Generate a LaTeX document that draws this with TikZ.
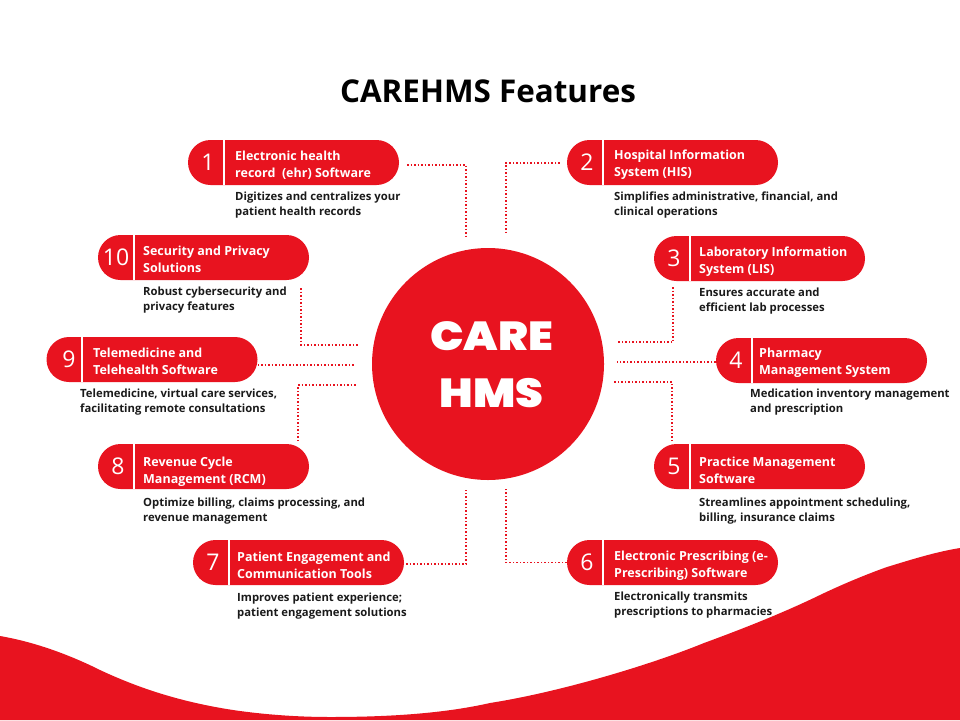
\documentclass[tikz,border=0pt]{standalone}
\usepackage{fontspec}
\setmainfont{Open Sans}
\newfontfamily\hubfont[FakeStretch=1.1]{Poppins Black}
\usetikzlibrary{shapes.misc}
\definecolor{carered}{HTML}{E8131F}
\definecolor{careink}{HTML}{1A1A1A}
\tikzset{
  pill/.style={rounded rectangle,fill=carered,minimum width=211pt,minimum height=45pt,inner sep=0pt},
  divider/.style={white,line width=2pt},
  num/.style={white,font=\fontsize{23}{23}\selectfont},
  head/.style={white,anchor=west,align=left,inner sep=0pt,font=\fontsize{12.5}{17}\selectfont\bfseries},
  desc/.style={careink,anchor=north west,align=left,inner sep=0pt,font=\fontsize{11.3}{15}\selectfont\bfseries},
  link/.style={carered,line width=1.5pt,dash pattern=on 1.5pt off 2pt},
}
\begin{document}
\begin{tikzpicture}[x=1pt,y=-1pt]
  \useasboundingbox (0,0) rectangle (960,720);
  % bottom wave
  \fill[carered] (0,636) .. controls (35,642) and (70,655) .. (100,670)
    .. controls (130,684) and (175,702) .. (240,711)
    .. controls (270,715) and (300,717) .. (330,717)
    .. controls (400,717) and (450,712) .. (490,703)
    .. controls (560,692) and (650,665) .. (704,643)
    .. controls (745,628) and (785,612) .. (820,595)
    .. controls (845,583) and (870,573) .. (887,567)
    .. controls (910,560) and (935,552) .. (960,548)
    -- (960,720) -- (0,720) -- cycle;
  \node[font=\fontsize{31.4}{32}\selectfont\bfseries] (title) at (488,91) {CAREHMS Features};
  \node[circle,fill=carered,minimum size=232pt,inner sep=0pt] (hub) at (488,364) {};
  \node[white,align=center,font=\hubfont\fontsize{40.5}{57}\selectfont] (hubtext) at (491.5,365) {CARE\\HMS};
  % pills
  \node[pill] (p1) at (293.5,162.5) {};
  \node[pill] (p2) at (672.5,162.5) {};
  \node[pill] (p3) at (759.5,258.5) {};
  \node[pill] (p4) at (821.5,360.5) {};
  \node[pill] (p5) at (759.5,466.5) {};
  \node[pill] (p6) at (672.5,562.5) {};
  \node[pill] (p7) at (298.5,562.5) {};
  \node[pill] (p8) at (203.5,466.5) {};
  \node[pill] (p9) at (152,359.5) {};
  \node[pill] (p10) at (203.5,257.5) {};
  % dividers
  \draw[divider] (p1.north west -| 224,0) -- (p1.south west -| 224,0);
  \draw[divider] (p2.north west -| 603,0) -- (p2.south west -| 603,0);
  \draw[divider] (p3.north west -| 690,0) -- (p3.south west -| 690,0);
  \draw[divider] (p4.north west -| 752,0) -- (p4.south west -| 752,0);
  \draw[divider] (p5.north west -| 690,0) -- (p5.south west -| 690,0);
  \draw[divider] (p6.north west -| 603,0) -- (p6.south west -| 603,0);
  \draw[divider] (p7.north west -| 229,0) -- (p7.south west -| 229,0);
  \draw[divider] (p8.north west -| 134,0) -- (p8.south west -| 134,0);
  \draw[divider] (p9.north west -| 82,0) -- (p9.south west -| 82,0);
  \draw[divider] (p10.north west -| 134,0) -- (p10.south west -| 134,0);
  % numbers
  \node[num] (n1) at (208,162.5) {1};
  \node[num] (n2) at (587,162.5) {2};
  \node[num] (n3) at (674,258.5) {3};
  \node[num] (n4) at (736,360.5) {4};
  \node[num] (n5) at (674,466.5) {5};
  \node[num] (n6) at (587,562.5) {6};
  \node[num] (n7) at (213,562.5) {7};
  \node[num] (n8) at (118,466.5) {8};
  \node[num] (n9) at (69,359.5) {9};
  \node[num] (n10) at (116,257.5) {10};
  % headings
  \node[head] (h1) at (235,165) {Electronic health\\record\ \ (ehr) Software};
  \node[head] (h2) at (614,165) {Hospital Information\\System (HIS)};
  \node[head] (h3) at (699,261.5) {Laboratory Information\\System (LIS)};
  \node[head] (h4) at (759,363) {Pharmacy\\Management System};
  \node[head] (h5) at (699,470.5) {Practice Management\\Software};
  \node[head] (h6) at (614,565.5) {Electronic Prescribing (e-\\Prescribing) Software};
  \node[head] (h7) at (237,565.5) {Patient Engagement and\\Communication Tools};
  \node[head] (h8) at (143,471.5) {Revenue Cycle\\Management (RCM)};
  \node[head] (h9) at (93,361) {Telemedicine and\\Telehealth Software};
  \node[head] (h10) at (143,259) {Security and Privacy\\Solutions};
  % descriptions
  \node[desc] (d1) at (235,191.5) {Digitizes and centralizes your\\patient health records};
  \node[desc] (d2) at (614,191.5) {Simplifies administrative, financial, and\\clinical operations};
  \node[desc] (d3) at (699,287.5) {Ensures accurate and\\efficient lab processes};
  \node[desc] (d4) at (750,389) {Medication inventory management\\and prescription};
  \node[desc] (d5) at (699,498) {Streamlines appointment scheduling,\\billing, insurance claims};
  \node[desc] (d6) at (614,591.5) {Electronically transmits\\prescriptions to pharmacies};
  \node[desc] (d7) at (237,592.5) {Improves patient experience;\\patient engagement solutions};
  \node[desc] (d8) at (143,498) {Optimize billing, claims processing, and\\revenue management};
  \node[desc] (d9) at (80,389) {Telemedicine, virtual care services,\\facilitating remote consultations};
  \node[desc] (d10) at (143,287) {Robust cybersecurity and\\privacy features};
  % connector ends
  \coordinate (c1) at (466,238);
  \coordinate (c2) at (506,235);
  \coordinate (c3) at (616,342);
  \coordinate (c4) at (617,362);
  \coordinate (c5) at (614,382);
  \coordinate (c6) at (506,489);
  \coordinate (c7) at (466,490);
  \coordinate (c8) at (356,385);
  \coordinate (c9) at (355,365);
  \coordinate (c10) at (359,345);
  \draw[link,shorten <=8pt] (p1.east |- 0,165) -| (c1);
  \draw[link,shorten <=7pt] (p2.west |- 0,163) -| (c2);
  \draw[link,shorten <=6pt] (673,281) |- (c3);
  \draw[link] (p4.west |- c4) -- (c4);
  \draw[link,shorten <=3pt] (672,444) |- (c5);
  \draw[link] (p6.west) -| (c6);
  \draw[link,shorten <=2pt] (p7.east |- 0,564) -| (c7);
  \draw[link,shorten <=3pt] (298,444) |- (c8);
  \draw[link] (p9.east |- c9) -- (c9);
  \draw[link,shorten <=8pt] (301,280) |- (c10);
\end{tikzpicture}
\end{document}
